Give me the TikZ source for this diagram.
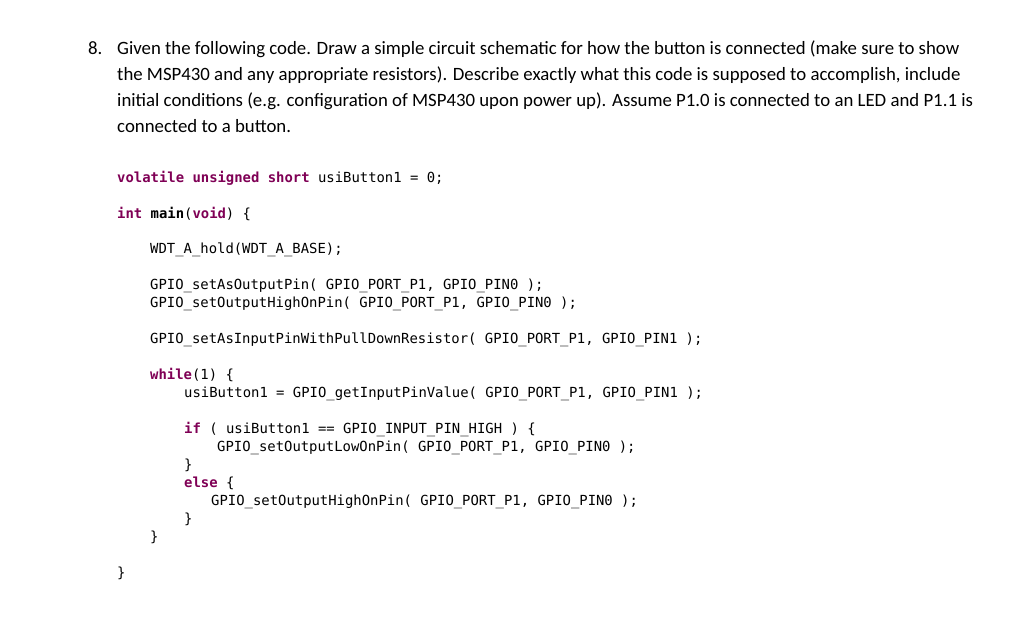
\documentclass[tikz,border=0pt]{standalone}
\usepackage{fontspec}
\setmainfont{Carlito}
\newfontfamily\codefont{DejaVu Sans Mono}
\definecolor{kw}{HTML}{7F0055}
\begin{document}
\begin{tikzpicture}[x=1pt,y=-1pt]
\tikzset{txt/.style={anchor=base west,inner sep=0pt,font=\fontsize{18.8}{22}\selectfont},
code/.style={anchor=base west,inner sep=0pt,font=\codefont\fontsize{13.9}{16}\selectfont}}
\newcommand\kwd[1]{\textcolor{kw}{\bfseries #1}}
\useasboundingbox (0,0) rectangle (1024,643);
\node[txt] (n8) at (88,54) {8.};
\node[txt] (l1) at (117,54) {Given the following code. Draw a simple circuit schematic for how the button is connected (make sure to show};
\node[txt] (l2) at (117,80) {the MSP430 and any appropriate resistors). Describe exactly what this code is supposed to accomplish, include};
\node[txt] (l3) at (117,106) {initial conditions (e.g. configuration of MSP430 upon power up). Assume P1.0 is connected to an LED and P1.1 is};
\node[txt] (l4) at (117,132) {connected to a button.};
\node[code] (c1) at (117,182) {\kwd{volatile} \kwd{unsigned} \kwd{short} usiButton1 = 0;};
\node[code] (c2) at (117,218) {\kwd{int} \textbf{main}(\kwd{void}) \{};
\node[code] (c3) at (150,253) {WDT\_A\_hold(WDT\_A\_BASE);};
\node[code] (c4) at (150,289) {GPIO\_setAsOutputPin( GPIO\_PORT\_P1, GPIO\_PIN0 );};
\node[code] (c5) at (150,307) {GPIO\_setOutputHighOnPin( GPIO\_PORT\_P1, GPIO\_PIN0 );};
\node[code] (c6) at (150,343) {GPIO\_setAsInputPinWithPullDownResistor( GPIO\_PORT\_P1, GPIO\_PIN1 );};
\node[code] (c7) at (150,379) {\kwd{while}(1) \{};
\node[code] (c8) at (184,397) {usiButton1 = GPIO\_getInputPinValue( GPIO\_PORT\_P1, GPIO\_PIN1 );};
\node[code] (c9) at (184,433) {\kwd{if} ( usiButton1 == GPIO\_INPUT\_PIN\_HIGH ) \{};
\node[code] (c10) at (217,451) {GPIO\_setOutputLowOnPin( GPIO\_PORT\_P1, GPIO\_PIN0 );};
\node[code] (c11) at (184,469) {\}};
\node[code] (c12) at (184,487) {\kwd{else} \{};
\node[code] (c13) at (211,505) {GPIO\_setOutputHighOnPin( GPIO\_PORT\_P1, GPIO\_PIN0 );};
\node[code] (c14) at (184,523) {\}};
\node[code] (c15) at (150,541) {\}};
\node[code] (c16) at (117,577) {\}};
\end{tikzpicture}
\end{document}
